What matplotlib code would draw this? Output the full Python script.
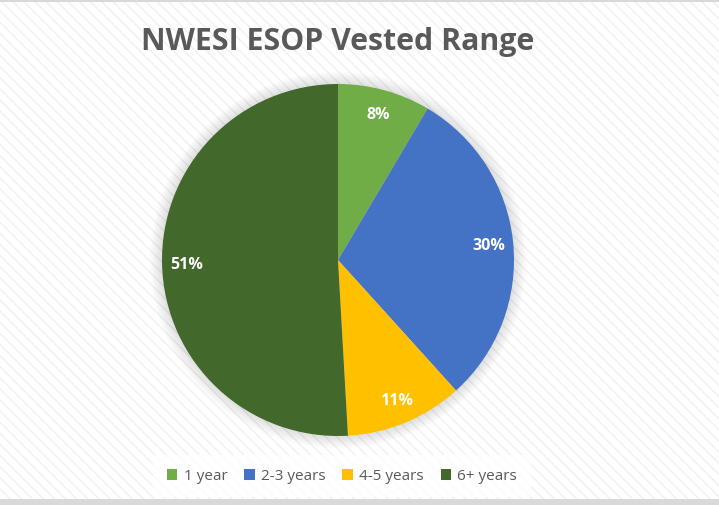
import matplotlib.pyplot as plt
from matplotlib.patches import Rectangle, Circle

labels = ["1 year", "2-3 years", "4-5 years", "6+ years"]
values = [8.5, 29.8, 10.8, 50.9]
colors = ["#70AD47", "#4472C4", "#FFC000", "#43682B"]

plt.rcParams["hatch.linewidth"] = 1.0

fig = plt.figure(figsize=(7.19, 5.06), dpi=100)
fig.patch.set_facecolor("white")

# fond rayé léger
fig.patches.append(Rectangle((0, 0.012), 1, 0.984, transform=fig.transFigure,
                             facecolor="white", edgecolor="#f0f0f0", hatch="\\\\\\",
                             linewidth=0, zorder=-2))
fig.patches.append(Rectangle((0, 0.0), 1, 0.012, transform=fig.transFigure,
                             facecolor="#d9d9d9", edgecolor="none", zorder=-2))
fig.patches.append(Rectangle((0, 0.994), 1, 0.006, transform=fig.transFigure,
                             facecolor="#d9d9d9", edgecolor="none", zorder=-2))

W, H = 719, 506
cx, cy, r = 338, 261, 176
k = 1.12
ax = fig.add_axes([(cx - r * k) / W, (H - cy - r * k) / H, 2 * r * k / W, 2 * r * k / H])
ax.set_zorder(2)
ax.axis("off")

# ombre douce autour du camembert
for i in range(10):
    ax.add_patch(Circle((0, 0), 1.0 + 0.007 * (10 - i), facecolor="#000000",
                        alpha=0.012, edgecolor="none", zorder=1))

wedges, texts, autotexts = ax.pie(values, colors=colors, startangle=90, counterclock=False,
                                  autopct="%.0f%%", pctdistance=0.86, radius=1.0,
                                  wedgeprops=dict(linewidth=0, zorder=2),
                                  textprops=dict(color="white", fontsize=11.5,
                                                 fontweight="bold", family="Open Sans"))
for t in autotexts:
    t.set_zorder(3)
ax.set_xlim(-k, k)
ax.set_ylim(-k, k)

fig.text(cx / W, 1 - 42 / H, "NWESI ESOP Vested Range", ha="center", va="center",
         fontsize=21.8, fontweight="bold", color="#595959", family="Open Sans")

leg = fig.legend(wedges, labels, loc="center", bbox_to_anchor=(342 / W, 1 - 477 / H),
                 ncol=4, frameon=True, handlelength=0.7, handleheight=0.7,
                 handletextpad=0.4, columnspacing=1.1, borderpad=0.6,
                 prop=dict(family="Open Sans", size=11))
leg.get_frame().set_facecolor("white")
leg.get_frame().set_edgecolor("none")
leg.get_frame().set_boxstyle("square")
leg.set_zorder(3)
for t in leg.get_texts():
    t.set_color("#595959")

fig.savefig("out.png", dpi=100)
